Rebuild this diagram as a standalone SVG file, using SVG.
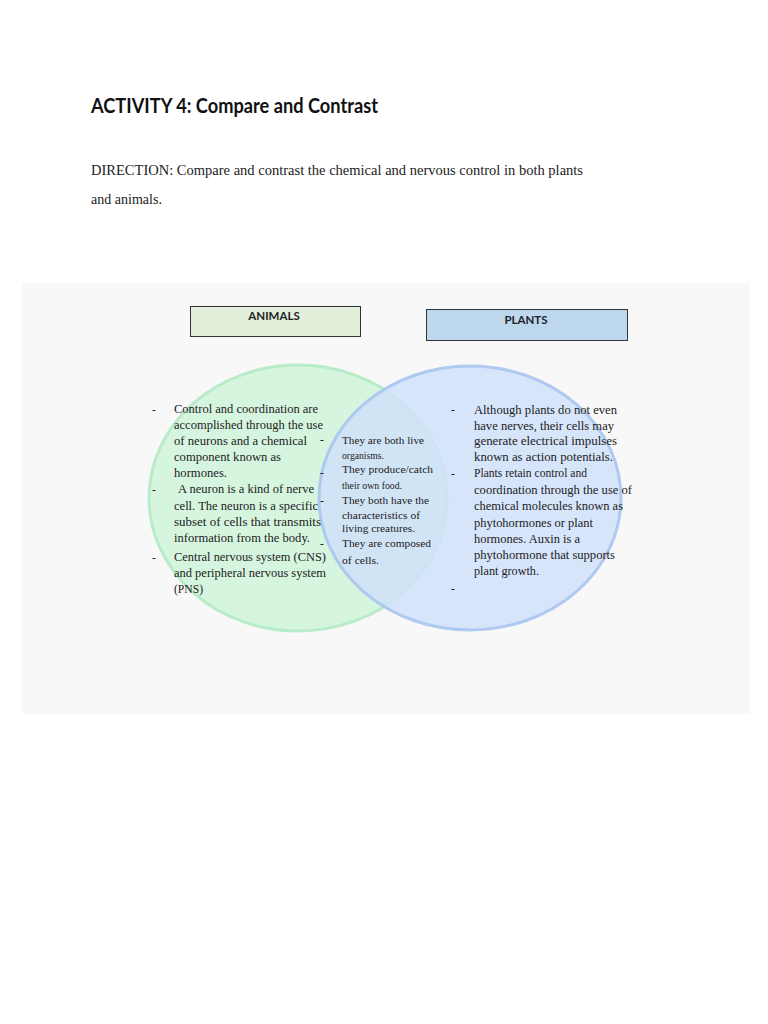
<svg xmlns="http://www.w3.org/2000/svg" width="768" height="1024" viewBox="0 0 768 1024">
<style>
.title{font-family:Lato,"Liberation Sans",sans-serif;font-weight:bold;font-size:20px;fill:#111}
.dir{font-family:"Liberation Serif","Times New Roman",serif;font-size:15px;fill:#222}
.hdr{font-family:Lato,"Liberation Sans",sans-serif;font-weight:bold;font-size:11.5px;fill:#222}
.t{font-family:"Liberation Serif","Times New Roman",serif;font-size:11.5px;fill:#222}
.m{font-family:"Liberation Serif","Times New Roman",serif;font-size:11px;fill:#222}
.box{stroke:#333;stroke-width:1}
</style>
<rect width="768" height="1024" fill="#ffffff"/>
<text class="title" x="91" y="113" textLength="287" lengthAdjust="spacingAndGlyphs">ACTIVITY 4: Compare and Contrast</text>
<text class="dir" x="91" y="175" textLength="492" lengthAdjust="spacingAndGlyphs">DIRECTION: Compare and contrast the chemical and nervous control in both plants</text>
<text class="dir" x="91" y="204" textLength="71" lengthAdjust="spacingAndGlyphs">and animals.</text>
<rect x="22" y="283" width="728" height="431" fill="#f8f8f8"/>
<g id="animals-circle">
<ellipse cx="298" cy="498" rx="149" ry="133" fill="#d6f5df" stroke="#b8ecc8" stroke-width="3"/>
</g>
<g id="plants-circle">
<ellipse cx="470" cy="498" rx="151" ry="132" fill="#cfe1fb" fill-opacity="0.82" stroke="#a8c5ef" stroke-width="3" stroke-opacity="0.9"/>
</g>
<g id="animals-header">
<rect class="box" x="190.5" y="306.5" width="170" height="30" fill="#e2efda"/>
<text class="hdr" x="274" y="320" text-anchor="middle">ANIMALS</text>
</g>
<g id="plants-header">
<rect class="box" x="426.5" y="309.5" width="201" height="31" fill="#bdd7ee"/>
<text class="hdr" x="526" y="324" text-anchor="middle">PLANTS</text>
</g>
<g id="animals-text">
<text class="t" x="152" y="413">-</text>
<text class="t" x="174" y="413" textLength="144" lengthAdjust="spacingAndGlyphs">Control and coordination are</text>
<text class="t" x="174" y="429" textLength="149" lengthAdjust="spacingAndGlyphs">accomplished through the use</text>
<text class="t" x="174" y="445" textLength="133" lengthAdjust="spacingAndGlyphs">of neurons and a chemical</text>
<text class="t" x="174" y="461" textLength="107" lengthAdjust="spacingAndGlyphs">component known as</text>
<text class="t" x="174" y="477" textLength="53" lengthAdjust="spacingAndGlyphs">hormones.</text>
<text class="t" x="152" y="493">-</text>
<text class="t" x="178" y="493" textLength="136" lengthAdjust="spacingAndGlyphs">A neuron is a kind of nerve</text>
<text class="t" x="174" y="510" textLength="144" lengthAdjust="spacingAndGlyphs">cell. The neuron is a specific</text>
<text class="t" x="174" y="526" textLength="147" lengthAdjust="spacingAndGlyphs">subset of cells that transmits</text>
<text class="t" x="174" y="542" textLength="136" lengthAdjust="spacingAndGlyphs">information from the body.</text>
<text class="t" x="152" y="561">-</text>
<text class="t" x="174" y="561" textLength="152" lengthAdjust="spacingAndGlyphs">Central nervous system (CNS)</text>
<text class="t" x="174" y="577" textLength="152" lengthAdjust="spacingAndGlyphs">and peripheral nervous system</text>
<text class="t" x="174" y="593" textLength="29" lengthAdjust="spacingAndGlyphs">(PNS)</text>
</g>
<g id="common-text">
<text class="t" x="320" y="443">-</text>
<text class="t" x="320" y="476">-</text>
<text class="t" x="320" y="504">-</text>
<text class="t" x="320" y="547">-</text>
<text class="m" x="342" y="443.5" textLength="82" lengthAdjust="spacingAndGlyphs">They are both live</text>
<text class="m" x="342" y="458.5" textLength="42" lengthAdjust="spacingAndGlyphs">organisms.</text>
<text class="m" x="342" y="473" textLength="91" lengthAdjust="spacingAndGlyphs">They produce/catch</text>
<text class="m" x="342" y="488.5" textLength="60" lengthAdjust="spacingAndGlyphs">their own food.</text>
<text class="m" x="342" y="503.5" textLength="87" lengthAdjust="spacingAndGlyphs">They both have the</text>
<text class="m" x="342" y="518.5" textLength="78" lengthAdjust="spacingAndGlyphs">characteristics of</text>
<text class="m" x="342" y="532" textLength="73" lengthAdjust="spacingAndGlyphs">living creatures.</text>
<text class="m" x="342" y="547" textLength="89" lengthAdjust="spacingAndGlyphs">They are composed</text>
<text class="m" x="342" y="563.5" textLength="37" lengthAdjust="spacingAndGlyphs">of cells.</text>
</g>
<g id="plants-text">
<text class="t" x="451" y="413">-</text>
<text class="t" x="474" y="414" textLength="143" lengthAdjust="spacingAndGlyphs">Although plants do not even</text>
<text class="t" x="474" y="430" textLength="140" lengthAdjust="spacingAndGlyphs">have nerves, their cells may</text>
<text class="t" x="474" y="445" textLength="143" lengthAdjust="spacingAndGlyphs">generate electrical impulses</text>
<text class="t" x="474" y="461" textLength="139" lengthAdjust="spacingAndGlyphs">known as action potentials.</text>
<text class="t" x="451" y="477">-</text>
<text class="t" x="474" y="477" textLength="113" lengthAdjust="spacingAndGlyphs">Plants retain control and</text>
<text class="t" x="474" y="494" textLength="158" lengthAdjust="spacingAndGlyphs">coordination through the use of</text>
<text class="t" x="474" y="510" textLength="149" lengthAdjust="spacingAndGlyphs">chemical molecules known as</text>
<text class="t" x="474" y="527" textLength="119" lengthAdjust="spacingAndGlyphs">phytohormones or plant</text>
<text class="t" x="474" y="543" textLength="106" lengthAdjust="spacingAndGlyphs">hormones. Auxin is a</text>
<text class="t" x="474" y="559" textLength="141" lengthAdjust="spacingAndGlyphs">phytohormone that supports</text>
<text class="t" x="474" y="575" textLength="65" lengthAdjust="spacingAndGlyphs">plant growth.</text>
<text class="t" x="451" y="592">-</text>
</g>
</svg>
